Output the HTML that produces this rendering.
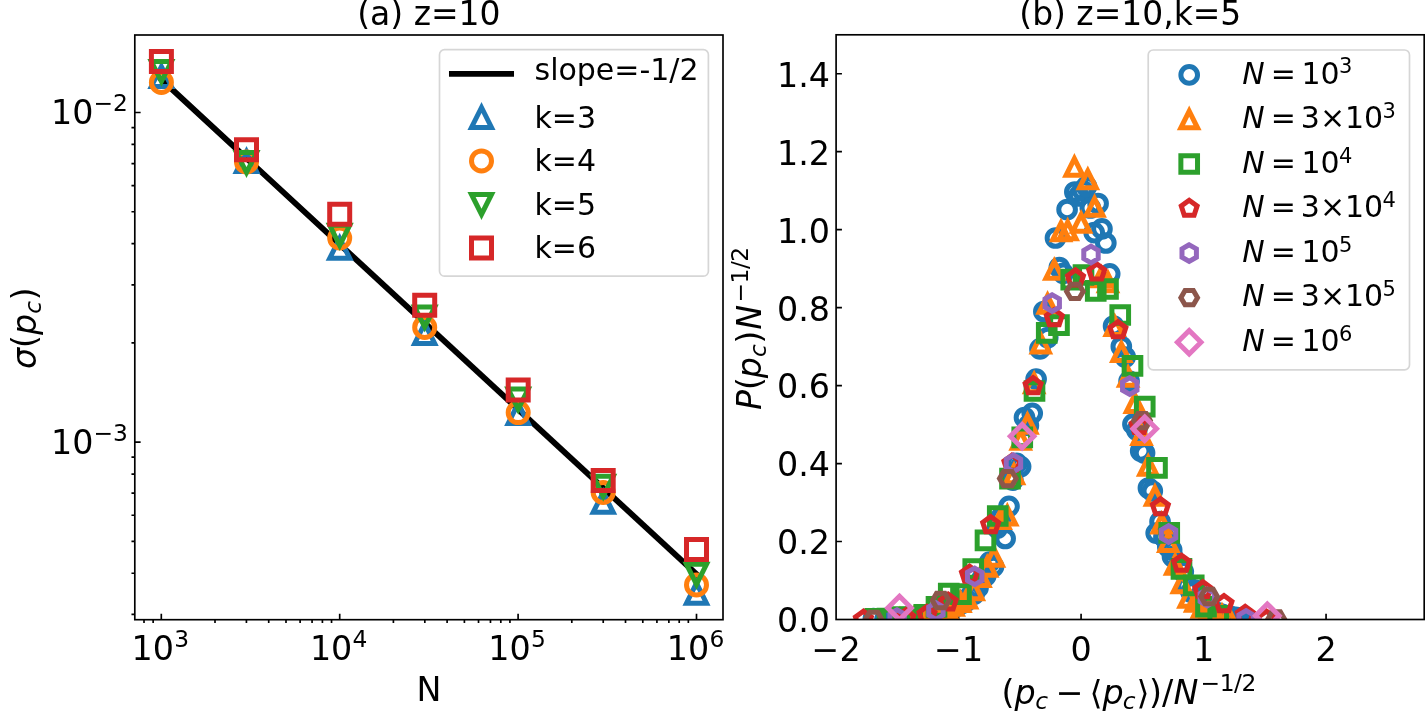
<!DOCTYPE html>
<html><head><meta charset="utf-8"><title>figure</title><style>html,body{margin:0;padding:0;background:#fff}svg{display:block}</style></head><body>
<svg width="1425" height="719" viewBox="0 0 1425 719" font-family="DejaVu Sans, Liberation Sans, sans-serif">
<rect width="1425" height="719" fill="#fff"/>
<defs><clipPath id="ca"><rect x="134.8" y="35" width="588.2" height="584.7"/></clipPath><clipPath id="cb"><rect x="836.1" y="34.8" width="588.1" height="584.7"/></clipPath></defs>
<g clip-path="url(#ca)">
<line x1="161.4" y1="79.5" x2="696.5" y2="574.2" stroke="#000" stroke-width="5.83" stroke-linecap="square"/>
<polygon points="161.4,66.5 151.4,86.5 171.4,86.5" fill="none" stroke="#1f77b4" stroke-width="5" stroke-linejoin="miter" stroke-miterlimit="10"/>
<polygon points="246.5,151.5 236.5,171.5 256.5,171.5" fill="none" stroke="#1f77b4" stroke-width="5" stroke-linejoin="miter" stroke-miterlimit="10"/>
<polygon points="339.7,238.3 329.7,258.3 349.7,258.3" fill="none" stroke="#1f77b4" stroke-width="5" stroke-linejoin="miter" stroke-miterlimit="10"/>
<polygon points="424.7,323.4 414.7,343.4 434.7,343.4" fill="none" stroke="#1f77b4" stroke-width="5" stroke-linejoin="miter" stroke-miterlimit="10"/>
<polygon points="518.2,403.4 508.2,423.4 528.2,423.4" fill="none" stroke="#1f77b4" stroke-width="5" stroke-linejoin="miter" stroke-miterlimit="10"/>
<polygon points="603.2,492.3 593.2,512.3 613.2,512.3" fill="none" stroke="#1f77b4" stroke-width="5" stroke-linejoin="miter" stroke-miterlimit="10"/>
<polygon points="696.5,583.2 686.5,603.2 706.5,603.2" fill="none" stroke="#1f77b4" stroke-width="5" stroke-linejoin="miter" stroke-miterlimit="10"/>
<circle cx="161.4" cy="82.4" r="10" fill="none" stroke="#ff7f0e" stroke-width="5"/>
<circle cx="246.5" cy="162" r="10" fill="none" stroke="#ff7f0e" stroke-width="5"/>
<circle cx="339.7" cy="238" r="10" fill="none" stroke="#ff7f0e" stroke-width="5"/>
<circle cx="424.7" cy="327.4" r="10" fill="none" stroke="#ff7f0e" stroke-width="5"/>
<circle cx="518.2" cy="412.6" r="10" fill="none" stroke="#ff7f0e" stroke-width="5"/>
<circle cx="603.2" cy="492.4" r="10" fill="none" stroke="#ff7f0e" stroke-width="5"/>
<circle cx="696.5" cy="584.9" r="10" fill="none" stroke="#ff7f0e" stroke-width="5"/>
<polygon points="161.4,81.5 151.4,61.5 171.4,61.5" fill="none" stroke="#2ca02c" stroke-width="5" stroke-linejoin="miter" stroke-miterlimit="10"/>
<polygon points="246.5,172.5 236.5,152.5 256.5,152.5" fill="none" stroke="#2ca02c" stroke-width="5" stroke-linejoin="miter" stroke-miterlimit="10"/>
<polygon points="339.7,245.3 329.7,225.3 349.7,225.3" fill="none" stroke="#2ca02c" stroke-width="5" stroke-linejoin="miter" stroke-miterlimit="10"/>
<polygon points="424.7,327 414.7,307 434.7,307" fill="none" stroke="#2ca02c" stroke-width="5" stroke-linejoin="miter" stroke-miterlimit="10"/>
<polygon points="518.2,409.1 508.2,389.1 528.2,389.1" fill="none" stroke="#2ca02c" stroke-width="5" stroke-linejoin="miter" stroke-miterlimit="10"/>
<polygon points="603.2,496.15 593.2,476.15 613.2,476.15" fill="none" stroke="#2ca02c" stroke-width="5" stroke-linejoin="miter" stroke-miterlimit="10"/>
<polygon points="696.5,584.3 686.5,564.3 706.5,564.3" fill="none" stroke="#2ca02c" stroke-width="5" stroke-linejoin="miter" stroke-miterlimit="10"/>
<polygon points="151.4,51.4 171.4,51.4 171.4,71.4 151.4,71.4" fill="none" stroke="#d62728" stroke-width="5" stroke-linejoin="miter" stroke-miterlimit="10"/>
<polygon points="236.5,139.65 256.5,139.65 256.5,159.65 236.5,159.65" fill="none" stroke="#d62728" stroke-width="5" stroke-linejoin="miter" stroke-miterlimit="10"/>
<polygon points="329.7,204.3 349.7,204.3 349.7,224.3 329.7,224.3" fill="none" stroke="#d62728" stroke-width="5" stroke-linejoin="miter" stroke-miterlimit="10"/>
<polygon points="414.7,295.15 434.7,295.15 434.7,315.15 414.7,315.15" fill="none" stroke="#d62728" stroke-width="5" stroke-linejoin="miter" stroke-miterlimit="10"/>
<polygon points="508.2,380.1 528.2,380.1 528.2,400.1 508.2,400.1" fill="none" stroke="#d62728" stroke-width="5" stroke-linejoin="miter" stroke-miterlimit="10"/>
<polygon points="593.2,470.4 613.2,470.4 613.2,490.4 593.2,490.4" fill="none" stroke="#d62728" stroke-width="5" stroke-linejoin="miter" stroke-miterlimit="10"/>
<polygon points="686.5,539.5 706.5,539.5 706.5,559.5 686.5,559.5" fill="none" stroke="#d62728" stroke-width="5" stroke-linejoin="miter" stroke-miterlimit="10"/>
</g>
<path d="M161.3 619.7V613.87M339.7 619.7V613.87M518.1 619.7V613.87M696.5 619.7V613.87M144.01 619.7V623.03M153.14 619.7V623.03M215 619.7V623.03M246.42 619.7V623.03M268.71 619.7V623.03M286 619.7V623.03M300.12 619.7V623.03M312.07 619.7V623.03M322.41 619.7V623.03M331.54 619.7V623.03M393.4 619.7V623.03M424.82 619.7V623.03M447.11 619.7V623.03M464.4 619.7V623.03M478.52 619.7V623.03M490.47 619.7V623.03M500.81 619.7V623.03M509.94 619.7V623.03M571.8 619.7V623.03M603.22 619.7V623.03M625.51 619.7V623.03M642.8 619.7V623.03M656.92 619.7V623.03M668.87 619.7V623.03M679.21 619.7V623.03M688.34 619.7V623.03M134.8 112.5H140.63M134.8 442.1H140.63M134.8 614.44H131.47M134.8 573.26H131.47M134.8 541.32H131.47M134.8 515.22H131.47M134.8 493.16H131.47M134.8 474.04H131.47M134.8 457.18H131.47M134.8 342.88H131.47M134.8 284.84H131.47M134.8 243.66H131.47M134.8 211.72H131.47M134.8 185.62H131.47M134.8 163.56H131.47M134.8 144.44H131.47M134.8 127.58H131.47" stroke="#000" stroke-width="1.67" fill="none"/>
<rect x="134.8" y="35" width="588.2" height="584.7" fill="none" stroke="#000" stroke-width="1.67"/>
<text x="131.5" y="660" font-size="33.33" text-anchor="start" >10</text>
<text x="174.2" y="647.4" font-size="23.33" text-anchor="start" >3</text>
<text x="309.9" y="660" font-size="33.33" text-anchor="start" >10</text>
<text x="352.6" y="647.4" font-size="23.33" text-anchor="start" >4</text>
<text x="488.3" y="660" font-size="33.33" text-anchor="start" >10</text>
<text x="531" y="647.4" font-size="23.33" text-anchor="start" >5</text>
<text x="666.7" y="660" font-size="33.33" text-anchor="start" >10</text>
<text x="709.4" y="647.4" font-size="23.33" text-anchor="start" >6</text>
<text x="51" y="123.8" font-size="33.33" text-anchor="start" >10</text>
<text x="93.45" y="111.3" font-size="23.33" text-anchor="start" >−2</text>
<text x="51" y="454.1" font-size="33.33" text-anchor="start" >10</text>
<text x="93.45" y="440.8" font-size="23.33" text-anchor="start" >−3</text>
<text x="428.9" y="25" font-size="33" text-anchor="middle" >(a) z=10</text>
<text x="428.9" y="700.7" font-size="33.33" text-anchor="middle" >N</text>
<g transform="translate(35.9,369.0) rotate(-90)"><text x="0" y="0" font-size="33.33" text-anchor="start" font-style="italic" >σ</text><text x="21.1" y="0" font-size="33.33" text-anchor="start" >(</text><text x="34.1" y="0" font-size="33.33" text-anchor="start" font-style="italic" >p</text><text x="55.3" y="5.4" font-size="23.33" text-anchor="start" font-style="italic" >c</text><text x="68.6" y="0" font-size="33.33" text-anchor="start" >)</text></g>
<rect x="439.5" y="49.7" width="268.9" height="226.5" rx="5" ry="5" fill="#fff" fill-opacity="0.8" stroke="#ccc" stroke-opacity="0.8" stroke-width="1.67"/>
<line x1="451.9" y1="73.85" x2="511.1" y2="73.85" stroke="#000" stroke-width="5.83" stroke-linecap="square"/>
<polygon points="481.5,107.5 471.5,127.5 491.5,127.5" fill="none" stroke="#1f77b4" stroke-width="5" stroke-linejoin="miter" stroke-miterlimit="10"/>
<circle cx="481.5" cy="160.9" r="10" fill="none" stroke="#ff7f0e" stroke-width="5"/>
<polygon points="481.5,214.4 471.5,194.4 491.5,194.4" fill="none" stroke="#2ca02c" stroke-width="5" stroke-linejoin="miter" stroke-miterlimit="10"/>
<polygon points="471.5,237.9 491.5,237.9 491.5,257.9 471.5,257.9" fill="none" stroke="#d62728" stroke-width="5" stroke-linejoin="miter" stroke-miterlimit="10"/>
<text x="534.5" y="79.8" font-size="30" text-anchor="start" >slope=-1/2</text>
<text x="534.5" y="127.9" font-size="30" text-anchor="start" >k=3</text>
<text x="534.5" y="171.4" font-size="30" text-anchor="start" >k=4</text>
<text x="534.5" y="214.9" font-size="30" text-anchor="start" >k=5</text>
<text x="534.5" y="258.4" font-size="30" text-anchor="start" >k=6</text>
<path d="M958.59 619.5V613.67M1081.08 619.5V613.67M1203.57 619.5V613.67M1326.06 619.5V613.67M836.1 541.53H841.93M836.1 463.56H841.93M836.1 385.59H841.93M836.1 307.62H841.93M836.1 229.65H841.93M836.1 151.68H841.93M836.1 73.71H841.93" stroke="#000" stroke-width="1.67" fill="none"/>
<g clip-path="url(#cb)">
<circle cx="873.44" cy="618.5" r="8.33" fill="none" stroke="#1f77b4" stroke-width="5"/>
<circle cx="885.06" cy="619.3" r="8.33" fill="none" stroke="#1f77b4" stroke-width="5"/>
<circle cx="888.94" cy="619.3" r="8.33" fill="none" stroke="#1f77b4" stroke-width="5"/>
<circle cx="892.81" cy="619.5" r="8.33" fill="none" stroke="#1f77b4" stroke-width="5"/>
<circle cx="896.68" cy="619.5" r="8.33" fill="none" stroke="#1f77b4" stroke-width="5"/>
<circle cx="900.56" cy="619.48" r="8.33" fill="none" stroke="#1f77b4" stroke-width="5"/>
<circle cx="904.43" cy="619.44" r="8.33" fill="none" stroke="#1f77b4" stroke-width="5"/>
<circle cx="908.3" cy="619.35" r="8.33" fill="none" stroke="#1f77b4" stroke-width="5"/>
<circle cx="912.17" cy="619.22" r="8.33" fill="none" stroke="#1f77b4" stroke-width="5"/>
<circle cx="916.05" cy="618.99" r="8.33" fill="none" stroke="#1f77b4" stroke-width="5"/>
<circle cx="919.92" cy="618.66" r="8.33" fill="none" stroke="#1f77b4" stroke-width="5"/>
<circle cx="923.79" cy="618.19" r="8.33" fill="none" stroke="#1f77b4" stroke-width="5"/>
<circle cx="927.67" cy="617.5" r="8.33" fill="none" stroke="#1f77b4" stroke-width="5"/>
<circle cx="931.54" cy="616.63" r="8.33" fill="none" stroke="#1f77b4" stroke-width="5"/>
<circle cx="935.41" cy="615.47" r="8.33" fill="none" stroke="#1f77b4" stroke-width="5"/>
<circle cx="939.29" cy="614.04" r="8.33" fill="none" stroke="#1f77b4" stroke-width="5"/>
<circle cx="943.16" cy="612.38" r="8.33" fill="none" stroke="#1f77b4" stroke-width="5"/>
<circle cx="947.03" cy="610.53" r="8.33" fill="none" stroke="#1f77b4" stroke-width="5"/>
<circle cx="950.9" cy="608.76" r="8.33" fill="none" stroke="#1f77b4" stroke-width="5"/>
<circle cx="954.78" cy="606.97" r="8.33" fill="none" stroke="#1f77b4" stroke-width="5"/>
<circle cx="958.65" cy="605.13" r="8.33" fill="none" stroke="#1f77b4" stroke-width="5"/>
<circle cx="962.52" cy="603.21" r="8.33" fill="none" stroke="#1f77b4" stroke-width="5"/>
<circle cx="966.4" cy="601.01" r="8.33" fill="none" stroke="#1f77b4" stroke-width="5"/>
<circle cx="970.27" cy="596" r="8.33" fill="none" stroke="#1f77b4" stroke-width="5"/>
<circle cx="974.14" cy="594.04" r="8.33" fill="none" stroke="#1f77b4" stroke-width="5"/>
<circle cx="978.02" cy="587.7" r="8.33" fill="none" stroke="#1f77b4" stroke-width="5"/>
<circle cx="981.89" cy="579" r="8.33" fill="none" stroke="#1f77b4" stroke-width="5"/>
<circle cx="985.76" cy="575.8" r="8.33" fill="none" stroke="#1f77b4" stroke-width="5"/>
<circle cx="989.63" cy="562.2" r="8.33" fill="none" stroke="#1f77b4" stroke-width="5"/>
<circle cx="993.51" cy="566.5" r="8.33" fill="none" stroke="#1f77b4" stroke-width="5"/>
<circle cx="997.38" cy="528" r="8.33" fill="none" stroke="#1f77b4" stroke-width="5"/>
<circle cx="1001.25" cy="517.2" r="8.33" fill="none" stroke="#1f77b4" stroke-width="5"/>
<circle cx="1005.13" cy="538.5" r="8.33" fill="none" stroke="#1f77b4" stroke-width="5"/>
<circle cx="1009" cy="506.3" r="8.33" fill="none" stroke="#1f77b4" stroke-width="5"/>
<circle cx="1012.87" cy="480.2" r="8.33" fill="none" stroke="#1f77b4" stroke-width="5"/>
<circle cx="1016.75" cy="463.4" r="8.33" fill="none" stroke="#1f77b4" stroke-width="5"/>
<circle cx="1020.62" cy="466.6" r="8.33" fill="none" stroke="#1f77b4" stroke-width="5"/>
<circle cx="1024.49" cy="417.5" r="8.33" fill="none" stroke="#1f77b4" stroke-width="5"/>
<circle cx="1028.37" cy="425.4" r="8.33" fill="none" stroke="#1f77b4" stroke-width="5"/>
<circle cx="1032.24" cy="413.3" r="8.33" fill="none" stroke="#1f77b4" stroke-width="5"/>
<circle cx="1036.11" cy="379.1" r="8.33" fill="none" stroke="#1f77b4" stroke-width="5"/>
<circle cx="1039.98" cy="348.9" r="8.33" fill="none" stroke="#1f77b4" stroke-width="5"/>
<circle cx="1043.86" cy="311.5" r="8.33" fill="none" stroke="#1f77b4" stroke-width="5"/>
<circle cx="1047.73" cy="337.5" r="8.33" fill="none" stroke="#1f77b4" stroke-width="5"/>
<circle cx="1055.48" cy="238" r="8.33" fill="none" stroke="#1f77b4" stroke-width="5"/>
<circle cx="1059.35" cy="267.5" r="8.33" fill="none" stroke="#1f77b4" stroke-width="5"/>
<circle cx="1063.22" cy="273.3" r="8.33" fill="none" stroke="#1f77b4" stroke-width="5"/>
<circle cx="1067.1" cy="209.5" r="8.33" fill="none" stroke="#1f77b4" stroke-width="5"/>
<circle cx="1074.84" cy="192" r="8.33" fill="none" stroke="#1f77b4" stroke-width="5"/>
<circle cx="1078.71" cy="196" r="8.33" fill="none" stroke="#1f77b4" stroke-width="5"/>
<circle cx="1082.59" cy="190.5" r="8.33" fill="none" stroke="#1f77b4" stroke-width="5"/>
<circle cx="1086.46" cy="186.5" r="8.33" fill="none" stroke="#1f77b4" stroke-width="5"/>
<circle cx="1090.33" cy="208" r="8.33" fill="none" stroke="#1f77b4" stroke-width="5"/>
<circle cx="1094.21" cy="232.6" r="8.33" fill="none" stroke="#1f77b4" stroke-width="5"/>
<circle cx="1098.08" cy="203.5" r="8.33" fill="none" stroke="#1f77b4" stroke-width="5"/>
<circle cx="1101.95" cy="228.9" r="8.33" fill="none" stroke="#1f77b4" stroke-width="5"/>
<circle cx="1105.83" cy="243" r="8.33" fill="none" stroke="#1f77b4" stroke-width="5"/>
<circle cx="1109.7" cy="273.8" r="8.33" fill="none" stroke="#1f77b4" stroke-width="5"/>
<circle cx="1113.57" cy="326" r="8.33" fill="none" stroke="#1f77b4" stroke-width="5"/>
<circle cx="1121.32" cy="346.5" r="8.33" fill="none" stroke="#1f77b4" stroke-width="5"/>
<circle cx="1125.19" cy="357" r="8.33" fill="none" stroke="#1f77b4" stroke-width="5"/>
<circle cx="1129.06" cy="381.2" r="8.33" fill="none" stroke="#1f77b4" stroke-width="5"/>
<circle cx="1132.94" cy="424.2" r="8.33" fill="none" stroke="#1f77b4" stroke-width="5"/>
<circle cx="1136.81" cy="430.1" r="8.33" fill="none" stroke="#1f77b4" stroke-width="5"/>
<circle cx="1140.68" cy="451" r="8.33" fill="none" stroke="#1f77b4" stroke-width="5"/>
<circle cx="1144.56" cy="453" r="8.33" fill="none" stroke="#1f77b4" stroke-width="5"/>
<circle cx="1148.43" cy="488" r="8.33" fill="none" stroke="#1f77b4" stroke-width="5"/>
<circle cx="1152.3" cy="491" r="8.33" fill="none" stroke="#1f77b4" stroke-width="5"/>
<circle cx="1156.17" cy="533.1" r="8.33" fill="none" stroke="#1f77b4" stroke-width="5"/>
<circle cx="1160.05" cy="521.7" r="8.33" fill="none" stroke="#1f77b4" stroke-width="5"/>
<circle cx="1163.92" cy="537" r="8.33" fill="none" stroke="#1f77b4" stroke-width="5"/>
<circle cx="1167.79" cy="546.6" r="8.33" fill="none" stroke="#1f77b4" stroke-width="5"/>
<circle cx="1171.67" cy="550" r="8.33" fill="none" stroke="#1f77b4" stroke-width="5"/>
<circle cx="1179.41" cy="564.98" r="8.33" fill="none" stroke="#1f77b4" stroke-width="5"/>
<circle cx="1183.29" cy="571.8" r="8.33" fill="none" stroke="#1f77b4" stroke-width="5"/>
<circle cx="1187.16" cy="585.79" r="8.33" fill="none" stroke="#1f77b4" stroke-width="5"/>
<circle cx="1191.03" cy="592" r="8.33" fill="none" stroke="#1f77b4" stroke-width="5"/>
<circle cx="1194.9" cy="590" r="8.33" fill="none" stroke="#1f77b4" stroke-width="5"/>
<circle cx="1198.78" cy="602.13" r="8.33" fill="none" stroke="#1f77b4" stroke-width="5"/>
<circle cx="1202.65" cy="604.91" r="8.33" fill="none" stroke="#1f77b4" stroke-width="5"/>
<circle cx="1206.52" cy="607.57" r="8.33" fill="none" stroke="#1f77b4" stroke-width="5"/>
<circle cx="1210.4" cy="609.84" r="8.33" fill="none" stroke="#1f77b4" stroke-width="5"/>
<circle cx="1214.27" cy="611.53" r="8.33" fill="none" stroke="#1f77b4" stroke-width="5"/>
<circle cx="1218.14" cy="612.98" r="8.33" fill="none" stroke="#1f77b4" stroke-width="5"/>
<circle cx="1222.02" cy="614.26" r="8.33" fill="none" stroke="#1f77b4" stroke-width="5"/>
<circle cx="1225.89" cy="615.47" r="8.33" fill="none" stroke="#1f77b4" stroke-width="5"/>
<circle cx="1229.76" cy="616.42" r="8.33" fill="none" stroke="#1f77b4" stroke-width="5"/>
<circle cx="1233.63" cy="617.1" r="8.33" fill="none" stroke="#1f77b4" stroke-width="5"/>
<circle cx="1237.51" cy="617.48" r="8.33" fill="none" stroke="#1f77b4" stroke-width="5"/>
<circle cx="1241.38" cy="617.5" r="8.33" fill="none" stroke="#1f77b4" stroke-width="5"/>
<circle cx="1245.25" cy="617.5" r="8.33" fill="none" stroke="#1f77b4" stroke-width="5"/>
<circle cx="1172.5" cy="556.5" r="8.33" fill="none" stroke="#1f77b4" stroke-width="5"/>
<polygon points="899.97,611.17 891.64,627.83 908.3,627.83" fill="none" stroke="#ff7f0e" stroke-width="5" stroke-linejoin="miter" stroke-miterlimit="10"/>
<polygon points="906.68,610.97 898.35,627.63 915.01,627.63" fill="none" stroke="#ff7f0e" stroke-width="5" stroke-linejoin="miter" stroke-miterlimit="10"/>
<polygon points="913.38,610.67 905.05,627.33 921.71,627.33" fill="none" stroke="#ff7f0e" stroke-width="5" stroke-linejoin="miter" stroke-miterlimit="10"/>
<polygon points="920.09,609.97 911.76,626.63 928.42,626.63" fill="none" stroke="#ff7f0e" stroke-width="5" stroke-linejoin="miter" stroke-miterlimit="10"/>
<polygon points="926.8,608.67 918.47,625.33 935.13,625.33" fill="none" stroke="#ff7f0e" stroke-width="5" stroke-linejoin="miter" stroke-miterlimit="10"/>
<polygon points="933.51,606.67 925.18,623.33 941.84,623.33" fill="none" stroke="#ff7f0e" stroke-width="5" stroke-linejoin="miter" stroke-miterlimit="10"/>
<polygon points="940.22,603.67 931.89,620.33 948.55,620.33" fill="none" stroke="#ff7f0e" stroke-width="5" stroke-linejoin="miter" stroke-miterlimit="10"/>
<polygon points="946.93,600.17 938.6,616.83 955.26,616.83" fill="none" stroke="#ff7f0e" stroke-width="5" stroke-linejoin="miter" stroke-miterlimit="10"/>
<polygon points="953.64,597.67 945.31,614.33 961.97,614.33" fill="none" stroke="#ff7f0e" stroke-width="5" stroke-linejoin="miter" stroke-miterlimit="10"/>
<polygon points="960.35,593.77 952.02,610.43 968.68,610.43" fill="none" stroke="#ff7f0e" stroke-width="5" stroke-linejoin="miter" stroke-miterlimit="10"/>
<polygon points="967.06,590.27 958.73,606.93 975.39,606.93" fill="none" stroke="#ff7f0e" stroke-width="5" stroke-linejoin="miter" stroke-miterlimit="10"/>
<polygon points="973.77,582.07 965.44,598.73 982.1,598.73" fill="none" stroke="#ff7f0e" stroke-width="5" stroke-linejoin="miter" stroke-miterlimit="10"/>
<polygon points="980.47,568.87 972.14,585.53 988.8,585.53" fill="none" stroke="#ff7f0e" stroke-width="5" stroke-linejoin="miter" stroke-miterlimit="10"/>
<polygon points="987.18,558.67 978.85,575.33 995.51,575.33" fill="none" stroke="#ff7f0e" stroke-width="5" stroke-linejoin="miter" stroke-miterlimit="10"/>
<polygon points="993.89,548.57 985.56,565.23 1002.22,565.23" fill="none" stroke="#ff7f0e" stroke-width="5" stroke-linejoin="miter" stroke-miterlimit="10"/>
<polygon points="1000.6,510.87 992.27,527.53 1008.93,527.53" fill="none" stroke="#ff7f0e" stroke-width="5" stroke-linejoin="miter" stroke-miterlimit="10"/>
<polygon points="1007.31,507.37 998.98,524.03 1015.64,524.03" fill="none" stroke="#ff7f0e" stroke-width="5" stroke-linejoin="miter" stroke-miterlimit="10"/>
<polygon points="1014.02,465.97 1005.69,482.63 1022.35,482.63" fill="none" stroke="#ff7f0e" stroke-width="5" stroke-linejoin="miter" stroke-miterlimit="10"/>
<polygon points="1020.73,431.47 1012.4,448.13 1029.06,448.13" fill="none" stroke="#ff7f0e" stroke-width="5" stroke-linejoin="miter" stroke-miterlimit="10"/>
<polygon points="1027.44,415.57 1019.11,432.23 1035.77,432.23" fill="none" stroke="#ff7f0e" stroke-width="5" stroke-linejoin="miter" stroke-miterlimit="10"/>
<polygon points="1034.15,374.97 1025.82,391.63 1042.48,391.63" fill="none" stroke="#ff7f0e" stroke-width="5" stroke-linejoin="miter" stroke-miterlimit="10"/>
<polygon points="1040.86,335.27 1032.53,351.93 1049.18,351.93" fill="none" stroke="#ff7f0e" stroke-width="5" stroke-linejoin="miter" stroke-miterlimit="10"/>
<polygon points="1047.56,295.57 1039.23,312.23 1055.89,312.23" fill="none" stroke="#ff7f0e" stroke-width="5" stroke-linejoin="miter" stroke-miterlimit="10"/>
<polygon points="1054.27,261.57 1045.94,278.23 1062.6,278.23" fill="none" stroke="#ff7f0e" stroke-width="5" stroke-linejoin="miter" stroke-miterlimit="10"/>
<polygon points="1060.98,223.17 1052.65,239.83 1069.31,239.83" fill="none" stroke="#ff7f0e" stroke-width="5" stroke-linejoin="miter" stroke-miterlimit="10"/>
<polygon points="1067.69,222.17 1059.36,238.83 1076.02,238.83" fill="none" stroke="#ff7f0e" stroke-width="5" stroke-linejoin="miter" stroke-miterlimit="10"/>
<polygon points="1074.4,158.67 1066.07,175.33 1082.73,175.33" fill="none" stroke="#ff7f0e" stroke-width="5" stroke-linejoin="miter" stroke-miterlimit="10"/>
<polygon points="1081.11,214.67 1072.78,231.33 1089.44,231.33" fill="none" stroke="#ff7f0e" stroke-width="5" stroke-linejoin="miter" stroke-miterlimit="10"/>
<polygon points="1087.82,170.97 1079.49,187.63 1096.15,187.63" fill="none" stroke="#ff7f0e" stroke-width="5" stroke-linejoin="miter" stroke-miterlimit="10"/>
<polygon points="1094.53,198.67 1086.2,215.33 1102.86,215.33" fill="none" stroke="#ff7f0e" stroke-width="5" stroke-linejoin="miter" stroke-miterlimit="10"/>
<polygon points="1101.24,268.97 1092.91,285.63 1109.57,285.63" fill="none" stroke="#ff7f0e" stroke-width="5" stroke-linejoin="miter" stroke-miterlimit="10"/>
<polygon points="1107.95,274.17 1099.62,290.83 1116.28,290.83" fill="none" stroke="#ff7f0e" stroke-width="5" stroke-linejoin="miter" stroke-miterlimit="10"/>
<polygon points="1114.65,317.87 1106.32,334.53 1122.98,334.53" fill="none" stroke="#ff7f0e" stroke-width="5" stroke-linejoin="miter" stroke-miterlimit="10"/>
<polygon points="1121.36,343.87 1113.03,360.53 1129.69,360.53" fill="none" stroke="#ff7f0e" stroke-width="5" stroke-linejoin="miter" stroke-miterlimit="10"/>
<polygon points="1128.07,368.57 1119.74,385.23 1136.4,385.23" fill="none" stroke="#ff7f0e" stroke-width="5" stroke-linejoin="miter" stroke-miterlimit="10"/>
<polygon points="1134.78,394.87 1126.45,411.53 1143.11,411.53" fill="none" stroke="#ff7f0e" stroke-width="5" stroke-linejoin="miter" stroke-miterlimit="10"/>
<polygon points="1141.49,426.77 1133.16,443.43 1149.82,443.43" fill="none" stroke="#ff7f0e" stroke-width="5" stroke-linejoin="miter" stroke-miterlimit="10"/>
<polygon points="1148.2,457.67 1139.87,474.33 1156.53,474.33" fill="none" stroke="#ff7f0e" stroke-width="5" stroke-linejoin="miter" stroke-miterlimit="10"/>
<polygon points="1154.91,487.67 1146.58,504.33 1163.24,504.33" fill="none" stroke="#ff7f0e" stroke-width="5" stroke-linejoin="miter" stroke-miterlimit="10"/>
<polygon points="1161.62,515.37 1153.29,532.03 1169.95,532.03" fill="none" stroke="#ff7f0e" stroke-width="5" stroke-linejoin="miter" stroke-miterlimit="10"/>
<polygon points="1168.33,533.77 1160,550.43 1176.66,550.43" fill="none" stroke="#ff7f0e" stroke-width="5" stroke-linejoin="miter" stroke-miterlimit="10"/>
<polygon points="1175.04,556.57 1166.71,573.23 1183.37,573.23" fill="none" stroke="#ff7f0e" stroke-width="5" stroke-linejoin="miter" stroke-miterlimit="10"/>
<polygon points="1181.74,575.17 1173.41,591.83 1190.07,591.83" fill="none" stroke="#ff7f0e" stroke-width="5" stroke-linejoin="miter" stroke-miterlimit="10"/>
<polygon points="1188.45,589.57 1180.12,606.23 1196.78,606.23" fill="none" stroke="#ff7f0e" stroke-width="5" stroke-linejoin="miter" stroke-miterlimit="10"/>
<polygon points="1195.16,593.57 1186.83,610.23 1203.49,610.23" fill="none" stroke="#ff7f0e" stroke-width="5" stroke-linejoin="miter" stroke-miterlimit="10"/>
<polygon points="1201.87,599.57 1193.54,616.23 1210.2,616.23" fill="none" stroke="#ff7f0e" stroke-width="5" stroke-linejoin="miter" stroke-miterlimit="10"/>
<polygon points="1208.58,602.67 1200.25,619.33 1216.91,619.33" fill="none" stroke="#ff7f0e" stroke-width="5" stroke-linejoin="miter" stroke-miterlimit="10"/>
<polygon points="1215.29,605.17 1206.96,621.83 1223.62,621.83" fill="none" stroke="#ff7f0e" stroke-width="5" stroke-linejoin="miter" stroke-miterlimit="10"/>
<polygon points="1222,607.17 1213.67,623.83 1230.33,623.83" fill="none" stroke="#ff7f0e" stroke-width="5" stroke-linejoin="miter" stroke-miterlimit="10"/>
<polygon points="1228.71,609.17 1220.38,625.83 1237.04,625.83" fill="none" stroke="#ff7f0e" stroke-width="5" stroke-linejoin="miter" stroke-miterlimit="10"/>
<polygon points="866.93,610.57 883.59,610.57 883.59,627.23 866.93,627.23" fill="none" stroke="#2ca02c" stroke-width="5" stroke-linejoin="miter" stroke-miterlimit="10"/>
<polygon points="879.18,610.17 895.84,610.17 895.84,626.83 879.18,626.83" fill="none" stroke="#2ca02c" stroke-width="5" stroke-linejoin="miter" stroke-miterlimit="10"/>
<polygon points="891.43,608.67 908.09,608.67 908.09,625.33 891.43,625.33" fill="none" stroke="#2ca02c" stroke-width="5" stroke-linejoin="miter" stroke-miterlimit="10"/>
<polygon points="903.68,609.17 920.34,609.17 920.34,625.83 903.68,625.83" fill="none" stroke="#2ca02c" stroke-width="5" stroke-linejoin="miter" stroke-miterlimit="10"/>
<polygon points="915.92,606.47 932.59,606.47 932.59,623.13 915.92,623.13" fill="none" stroke="#2ca02c" stroke-width="5" stroke-linejoin="miter" stroke-miterlimit="10"/>
<polygon points="928.17,598.47 944.83,598.47 944.83,615.13 928.17,615.13" fill="none" stroke="#2ca02c" stroke-width="5" stroke-linejoin="miter" stroke-miterlimit="10"/>
<polygon points="940.42,585.27 957.08,585.27 957.08,601.93 940.42,601.93" fill="none" stroke="#2ca02c" stroke-width="5" stroke-linejoin="miter" stroke-miterlimit="10"/>
<polygon points="952.67,585.77 969.33,585.77 969.33,602.43 952.67,602.43" fill="none" stroke="#2ca02c" stroke-width="5" stroke-linejoin="miter" stroke-miterlimit="10"/>
<polygon points="964.92,560.67 981.58,560.67 981.58,577.33 964.92,577.33" fill="none" stroke="#2ca02c" stroke-width="5" stroke-linejoin="miter" stroke-miterlimit="10"/>
<polygon points="977.17,531.97 993.83,531.97 993.83,548.63 977.17,548.63" fill="none" stroke="#2ca02c" stroke-width="5" stroke-linejoin="miter" stroke-miterlimit="10"/>
<polygon points="989.42,507.67 1006.08,507.67 1006.08,524.33 989.42,524.33" fill="none" stroke="#2ca02c" stroke-width="5" stroke-linejoin="miter" stroke-miterlimit="10"/>
<polygon points="1001.67,470.37 1018.33,470.37 1018.33,487.03 1001.67,487.03" fill="none" stroke="#2ca02c" stroke-width="5" stroke-linejoin="miter" stroke-miterlimit="10"/>
<polygon points="1013.92,428.97 1030.58,428.97 1030.58,445.63 1013.92,445.63" fill="none" stroke="#2ca02c" stroke-width="5" stroke-linejoin="miter" stroke-miterlimit="10"/>
<polygon points="1026.17,382.67 1042.83,382.67 1042.83,399.33 1026.17,399.33" fill="none" stroke="#2ca02c" stroke-width="5" stroke-linejoin="miter" stroke-miterlimit="10"/>
<polygon points="1038.41,324.57 1055.07,324.57 1055.07,341.23 1038.41,341.23" fill="none" stroke="#2ca02c" stroke-width="5" stroke-linejoin="miter" stroke-miterlimit="10"/>
<polygon points="1050.66,316.77 1067.32,316.77 1067.32,333.43 1050.66,333.43" fill="none" stroke="#2ca02c" stroke-width="5" stroke-linejoin="miter" stroke-miterlimit="10"/>
<polygon points="1062.91,271.27 1079.57,271.27 1079.57,287.93 1062.91,287.93" fill="none" stroke="#2ca02c" stroke-width="5" stroke-linejoin="miter" stroke-miterlimit="10"/>
<polygon points="1075.16,266.67 1091.82,266.67 1091.82,283.33 1075.16,283.33" fill="none" stroke="#2ca02c" stroke-width="5" stroke-linejoin="miter" stroke-miterlimit="10"/>
<polygon points="1087.41,282.57 1104.07,282.57 1104.07,299.23 1087.41,299.23" fill="none" stroke="#2ca02c" stroke-width="5" stroke-linejoin="miter" stroke-miterlimit="10"/>
<polygon points="1099.66,280.67 1116.32,280.67 1116.32,297.33 1099.66,297.33" fill="none" stroke="#2ca02c" stroke-width="5" stroke-linejoin="miter" stroke-miterlimit="10"/>
<polygon points="1111.91,306.67 1128.57,306.67 1128.57,323.33 1111.91,323.33" fill="none" stroke="#2ca02c" stroke-width="5" stroke-linejoin="miter" stroke-miterlimit="10"/>
<polygon points="1124.16,357.47 1140.82,357.47 1140.82,374.13 1124.16,374.13" fill="none" stroke="#2ca02c" stroke-width="5" stroke-linejoin="miter" stroke-miterlimit="10"/>
<polygon points="1136.41,398.27 1153.07,398.27 1153.07,414.93 1136.41,414.93" fill="none" stroke="#2ca02c" stroke-width="5" stroke-linejoin="miter" stroke-miterlimit="10"/>
<polygon points="1148.66,459.57 1165.32,459.57 1165.32,476.23 1148.66,476.23" fill="none" stroke="#2ca02c" stroke-width="5" stroke-linejoin="miter" stroke-miterlimit="10"/>
<polygon points="1160.91,524.57 1177.57,524.57 1177.57,541.23 1160.91,541.23" fill="none" stroke="#2ca02c" stroke-width="5" stroke-linejoin="miter" stroke-miterlimit="10"/>
<polygon points="1173.15,560.47 1189.81,560.47 1189.81,577.13 1173.15,577.13" fill="none" stroke="#2ca02c" stroke-width="5" stroke-linejoin="miter" stroke-miterlimit="10"/>
<polygon points="1185.4,577.07 1202.06,577.07 1202.06,593.73 1185.4,593.73" fill="none" stroke="#2ca02c" stroke-width="5" stroke-linejoin="miter" stroke-miterlimit="10"/>
<polygon points="1197.65,598.27 1214.31,598.27 1214.31,614.93 1197.65,614.93" fill="none" stroke="#2ca02c" stroke-width="5" stroke-linejoin="miter" stroke-miterlimit="10"/>
<polygon points="1209.9,607.47 1226.56,607.47 1226.56,624.13 1209.9,624.13" fill="none" stroke="#2ca02c" stroke-width="5" stroke-linejoin="miter" stroke-miterlimit="10"/>
<polygon points="863.37,611.17 855.44,616.93 858.47,626.24 868.26,626.24 871.29,616.93" fill="none" stroke="#d62728" stroke-width="5" stroke-linejoin="miter" stroke-miterlimit="10"/>
<polygon points="905.79,609.67 897.87,615.43 900.9,624.74 910.69,624.74 913.72,615.43" fill="none" stroke="#d62728" stroke-width="5" stroke-linejoin="miter" stroke-miterlimit="10"/>
<polygon points="927.01,606.37 919.09,612.13 922.11,621.44 931.91,621.44 934.93,612.13" fill="none" stroke="#d62728" stroke-width="5" stroke-linejoin="miter" stroke-miterlimit="10"/>
<polygon points="948.22,593.97 940.3,599.73 943.33,609.04 953.12,609.04 956.15,599.73" fill="none" stroke="#d62728" stroke-width="5" stroke-linejoin="miter" stroke-miterlimit="10"/>
<polygon points="969.44,566.17 961.52,571.93 964.54,581.24 974.34,581.24 977.36,571.93" fill="none" stroke="#d62728" stroke-width="5" stroke-linejoin="miter" stroke-miterlimit="10"/>
<polygon points="990.65,516.57 982.73,522.33 985.76,531.64 995.55,531.64 998.58,522.33" fill="none" stroke="#d62728" stroke-width="5" stroke-linejoin="miter" stroke-miterlimit="10"/>
<polygon points="1011.87,455.17 1003.95,460.93 1006.97,470.24 1016.77,470.24 1019.79,460.93" fill="none" stroke="#d62728" stroke-width="5" stroke-linejoin="miter" stroke-miterlimit="10"/>
<polygon points="1033.09,377.57 1025.16,383.33 1028.19,392.64 1037.98,392.64 1041.01,383.33" fill="none" stroke="#d62728" stroke-width="5" stroke-linejoin="miter" stroke-miterlimit="10"/>
<polygon points="1054.3,309.57 1046.38,315.33 1049.4,324.64 1059.2,324.64 1062.22,315.33" fill="none" stroke="#d62728" stroke-width="5" stroke-linejoin="miter" stroke-miterlimit="10"/>
<polygon points="1075.51,269.87 1067.59,275.63 1070.62,284.94 1080.41,284.94 1083.44,275.63" fill="none" stroke="#d62728" stroke-width="5" stroke-linejoin="miter" stroke-miterlimit="10"/>
<polygon points="1096.73,263.87 1088.81,269.63 1091.83,278.94 1101.63,278.94 1104.65,269.63" fill="none" stroke="#d62728" stroke-width="5" stroke-linejoin="miter" stroke-miterlimit="10"/>
<polygon points="1117.94,321.67 1110.02,327.43 1113.05,336.74 1122.84,336.74 1125.87,327.43" fill="none" stroke="#d62728" stroke-width="5" stroke-linejoin="miter" stroke-miterlimit="10"/>
<polygon points="1139.16,417.47 1131.24,423.23 1134.26,432.54 1144.06,432.54 1147.08,423.23" fill="none" stroke="#d62728" stroke-width="5" stroke-linejoin="miter" stroke-miterlimit="10"/>
<polygon points="1160.38,498.67 1152.45,504.43 1155.48,513.74 1165.27,513.74 1168.3,504.43" fill="none" stroke="#d62728" stroke-width="5" stroke-linejoin="miter" stroke-miterlimit="10"/>
<polygon points="1181.59,555.27 1173.67,561.03 1176.69,570.34 1186.49,570.34 1189.51,561.03" fill="none" stroke="#d62728" stroke-width="5" stroke-linejoin="miter" stroke-miterlimit="10"/>
<polygon points="1202.8,581.67 1194.88,587.43 1197.91,596.74 1207.7,596.74 1210.73,587.43" fill="none" stroke="#d62728" stroke-width="5" stroke-linejoin="miter" stroke-miterlimit="10"/>
<polygon points="1224.02,595.57 1216.1,601.33 1219.12,610.64 1228.92,610.64 1231.94,601.33" fill="none" stroke="#d62728" stroke-width="5" stroke-linejoin="miter" stroke-miterlimit="10"/>
<polygon points="1245.23,606.37 1237.31,612.13 1240.34,621.44 1250.13,621.44 1253.16,612.13" fill="none" stroke="#d62728" stroke-width="5" stroke-linejoin="miter" stroke-miterlimit="10"/>
<polygon points="1266.45,611.17 1258.53,616.93 1261.55,626.24 1271.35,626.24 1274.37,616.93" fill="none" stroke="#d62728" stroke-width="5" stroke-linejoin="miter" stroke-miterlimit="10"/>
<polygon points="897.14,609.77 889.93,613.94 889.93,622.26 897.14,626.43 904.35,622.26 904.35,613.94" fill="none" stroke="#9467bd" stroke-width="5" stroke-linejoin="miter" stroke-miterlimit="10"/>
<polygon points="935.91,602.67 928.7,606.84 928.7,615.16 935.91,619.33 943.12,615.16 943.12,606.84" fill="none" stroke="#9467bd" stroke-width="5" stroke-linejoin="miter" stroke-miterlimit="10"/>
<polygon points="974.68,568.07 967.47,572.24 967.47,580.56 974.68,584.73 981.89,580.56 981.89,572.24" fill="none" stroke="#9467bd" stroke-width="5" stroke-linejoin="miter" stroke-miterlimit="10"/>
<polygon points="1013.45,454.97 1006.24,459.13 1006.24,467.47 1013.45,471.63 1020.66,467.47 1020.66,459.13" fill="none" stroke="#9467bd" stroke-width="5" stroke-linejoin="miter" stroke-miterlimit="10"/>
<polygon points="1052.22,294.77 1045.01,298.94 1045.01,307.27 1052.22,311.43 1059.43,307.27 1059.43,298.94" fill="none" stroke="#9467bd" stroke-width="5" stroke-linejoin="miter" stroke-miterlimit="10"/>
<polygon points="1090.99,246.17 1083.78,250.34 1083.78,258.67 1090.99,262.83 1098.2,258.67 1098.2,250.34" fill="none" stroke="#9467bd" stroke-width="5" stroke-linejoin="miter" stroke-miterlimit="10"/>
<polygon points="1129.76,377.77 1122.55,381.94 1122.55,390.27 1129.76,394.43 1136.97,390.27 1136.97,381.94" fill="none" stroke="#9467bd" stroke-width="5" stroke-linejoin="miter" stroke-miterlimit="10"/>
<polygon points="1168.53,525.67 1161.32,529.84 1161.32,538.16 1168.53,542.33 1175.74,538.16 1175.74,529.84" fill="none" stroke="#9467bd" stroke-width="5" stroke-linejoin="miter" stroke-miterlimit="10"/>
<polygon points="1207.3,589.17 1200.09,593.34 1200.09,601.66 1207.3,605.83 1214.51,601.66 1214.51,593.34" fill="none" stroke="#9467bd" stroke-width="5" stroke-linejoin="miter" stroke-miterlimit="10"/>
<polygon points="1246.07,610.67 1238.86,614.84 1238.86,623.16 1246.07,627.33 1253.28,623.16 1253.28,614.84" fill="none" stroke="#9467bd" stroke-width="5" stroke-linejoin="miter" stroke-miterlimit="10"/>
<polygon points="869.44,612.29 865.27,619.5 869.44,626.71 877.77,626.71 881.93,619.5 877.77,612.29" fill="none" stroke="#8c564b" stroke-width="5" stroke-linejoin="miter" stroke-miterlimit="10"/>
<polygon points="936.54,593.29 932.37,600.5 936.54,607.71 944.87,607.71 949.03,600.5 944.87,593.29" fill="none" stroke="#8c564b" stroke-width="5" stroke-linejoin="miter" stroke-miterlimit="10"/>
<polygon points="1003.64,471.39 999.47,478.6 1003.64,485.81 1011.97,485.81 1016.13,478.6 1011.97,471.39" fill="none" stroke="#8c564b" stroke-width="5" stroke-linejoin="miter" stroke-miterlimit="10"/>
<polygon points="1070.74,284.19 1066.57,291.4 1070.74,298.61 1079.07,298.61 1083.23,291.4 1079.07,284.19" fill="none" stroke="#8c564b" stroke-width="5" stroke-linejoin="miter" stroke-miterlimit="10"/>
<polygon points="1137.84,413.39 1133.67,420.6 1137.84,427.81 1146.16,427.81 1150.33,420.6 1146.16,413.39" fill="none" stroke="#8c564b" stroke-width="5" stroke-linejoin="miter" stroke-miterlimit="10"/>
<polygon points="1204.94,589.29 1200.77,596.5 1204.94,603.71 1213.27,603.71 1217.43,596.5 1213.27,589.29" fill="none" stroke="#8c564b" stroke-width="5" stroke-linejoin="miter" stroke-miterlimit="10"/>
<polygon points="1272.04,611.79 1267.87,619 1272.04,626.21 1280.37,626.21 1284.53,619 1280.37,611.79" fill="none" stroke="#8c564b" stroke-width="5" stroke-linejoin="miter" stroke-miterlimit="10"/>
<polygon points="899.5,596.32 911.28,608.1 899.5,619.88 887.72,608.1" fill="none" stroke="#e377c2" stroke-width="5" stroke-linejoin="miter" stroke-miterlimit="10"/>
<polygon points="1022.1,424.52 1033.88,436.3 1022.1,448.08 1010.32,436.3" fill="none" stroke="#e377c2" stroke-width="5" stroke-linejoin="miter" stroke-miterlimit="10"/>
<polygon points="1144.7,416.92 1156.48,428.7 1144.7,440.48 1132.92,428.7" fill="none" stroke="#e377c2" stroke-width="5" stroke-linejoin="miter" stroke-miterlimit="10"/>
<polygon points="1267.3,603.92 1279.08,615.7 1267.3,627.48 1255.52,615.7" fill="none" stroke="#e377c2" stroke-width="5" stroke-linejoin="miter" stroke-miterlimit="10"/>
</g>
<rect x="836.1" y="34.8" width="588.1" height="584.7" fill="none" stroke="#000" stroke-width="1.67"/>
<text x="836.1" y="660.5" font-size="33.33" text-anchor="middle" >−2</text>
<text x="958.59" y="660.5" font-size="33.33" text-anchor="middle" >−1</text>
<text x="1081.08" y="660.5" font-size="33.33" text-anchor="middle" >0</text>
<text x="1203.57" y="660.5" font-size="33.33" text-anchor="middle" >1</text>
<text x="1326.06" y="660.5" font-size="33.33" text-anchor="middle" >2</text>
<text x="830" y="632.4" font-size="33.33" text-anchor="end" >0.0</text>
<text x="830" y="554.43" font-size="33.33" text-anchor="end" >0.2</text>
<text x="830" y="476.46" font-size="33.33" text-anchor="end" >0.4</text>
<text x="830" y="398.49" font-size="33.33" text-anchor="end" >0.6</text>
<text x="830" y="320.52" font-size="33.33" text-anchor="end" >0.8</text>
<text x="830" y="242.55" font-size="33.33" text-anchor="end" >1.0</text>
<text x="830" y="164.58" font-size="33.33" text-anchor="end" >1.2</text>
<text x="830" y="86.61" font-size="33.33" text-anchor="end" >1.4</text>
<text x="1130.3" y="25" font-size="32.95" text-anchor="middle" >(b) z=10,k=5</text>
<text x="1001.4" y="704.3" font-size="33.33" text-anchor="start" >(</text><text x="1014.4" y="704.3" font-size="33.33" text-anchor="start" font-style="italic" >p</text><text x="1035.2" y="709.2" font-size="23.33" text-anchor="start" font-style="italic" >c</text><text x="1055.7" y="704.3" font-size="33.33" text-anchor="start" >−</text><text x="1089.4" y="704.3" font-size="33.33" text-anchor="start" >⟨</text><text x="1102.6" y="704.3" font-size="33.33" text-anchor="start" font-style="italic" >p</text><text x="1122.8" y="709.2" font-size="23.33" text-anchor="start" font-style="italic" >c</text><text x="1136.6" y="704.3" font-size="33.33" text-anchor="start" >⟩</text><text x="1149.1" y="704.3" font-size="33.33" text-anchor="start" >)</text><text x="1162.1" y="704.3" font-size="33.33" text-anchor="start" >/</text><text x="1173.4" y="704.3" font-size="33.33" text-anchor="start" font-style="italic" >N</text><text x="1200.6" y="690.8" font-size="23.33" text-anchor="start" letter-spacing="-0.45">−1/2</text>
<g transform="translate(761.0,409.9) rotate(-90)"><text x="0" y="0" font-size="33.33" text-anchor="start" font-style="italic" >P</text><text x="20" y="0" font-size="33.33" text-anchor="start" >(</text><text x="31.6" y="0" font-size="33.33" text-anchor="start" font-style="italic" >p</text><text x="52.8" y="4.9" font-size="23.33" text-anchor="start" font-style="italic" >c</text><text x="66.2" y="0" font-size="33.33" text-anchor="start" >)</text><text x="80.2" y="0" font-size="33.33" text-anchor="start" font-style="italic" >N</text><text x="107.3" y="-12.9" font-size="23.33" text-anchor="start" letter-spacing="-0.45">−1/2</text></g>
<rect x="1148.2" y="50.0" width="261.3" height="319.9" rx="5" ry="5" fill="#fff" fill-opacity="0.8" stroke="#ccc" stroke-opacity="0.8" stroke-width="1.67"/>
<circle cx="1189.2" cy="74.9" r="8.33" fill="none" stroke="#1f77b4" stroke-width="5"/>
<text x="1242.3" y="83.7" font-size="30" text-anchor="start" font-style="italic" >N</text>
<text x="1270.7" y="83.7" font-size="30" text-anchor="start" >=</text>
<text x="1301.5" y="83.7" font-size="30" text-anchor="start" >10</text>
<text x="1339" y="73.4" font-size="21" text-anchor="start" >3</text>
<polygon points="1189.2,111.12 1180.87,127.78 1197.53,127.78" fill="none" stroke="#ff7f0e" stroke-width="5" stroke-linejoin="miter" stroke-miterlimit="10"/>
<text x="1242.3" y="128.25" font-size="30" text-anchor="start" font-style="italic" >N</text>
<text x="1270.7" y="128.25" font-size="30" text-anchor="start" >=</text>
<text x="1300.8" y="128.25" font-size="30" text-anchor="start" >3×10</text>
<text x="1382.6" y="117.95" font-size="21" text-anchor="start" >3</text>
<polygon points="1180.87,155.67 1197.53,155.67 1197.53,172.33 1180.87,172.33" fill="none" stroke="#2ca02c" stroke-width="5" stroke-linejoin="miter" stroke-miterlimit="10"/>
<text x="1242.3" y="172.8" font-size="30" text-anchor="start" font-style="italic" >N</text>
<text x="1270.7" y="172.8" font-size="30" text-anchor="start" >=</text>
<text x="1301.5" y="172.8" font-size="30" text-anchor="start" >10</text>
<text x="1339" y="162.5" font-size="21" text-anchor="start" >4</text>
<polygon points="1189.2,200.22 1181.28,205.98 1184.3,215.29 1194.1,215.29 1197.12,205.98" fill="none" stroke="#d62728" stroke-width="5" stroke-linejoin="miter" stroke-miterlimit="10"/>
<text x="1242.3" y="217.35" font-size="30" text-anchor="start" font-style="italic" >N</text>
<text x="1270.7" y="217.35" font-size="30" text-anchor="start" >=</text>
<text x="1300.8" y="217.35" font-size="30" text-anchor="start" >3×10</text>
<text x="1382.6" y="207.05" font-size="21" text-anchor="start" >4</text>
<polygon points="1189.2,244.77 1181.99,248.94 1181.99,257.26 1189.2,261.43 1196.41,257.26 1196.41,248.94" fill="none" stroke="#9467bd" stroke-width="5" stroke-linejoin="miter" stroke-miterlimit="10"/>
<text x="1242.3" y="261.9" font-size="30" text-anchor="start" font-style="italic" >N</text>
<text x="1270.7" y="261.9" font-size="30" text-anchor="start" >=</text>
<text x="1301.5" y="261.9" font-size="30" text-anchor="start" >10</text>
<text x="1339" y="251.6" font-size="21" text-anchor="start" >5</text>
<polygon points="1185.04,290.44 1180.87,297.65 1185.04,304.86 1193.37,304.86 1197.53,297.65 1193.37,290.44" fill="none" stroke="#8c564b" stroke-width="5" stroke-linejoin="miter" stroke-miterlimit="10"/>
<text x="1242.3" y="306.45" font-size="30" text-anchor="start" font-style="italic" >N</text>
<text x="1270.7" y="306.45" font-size="30" text-anchor="start" >=</text>
<text x="1300.8" y="306.45" font-size="30" text-anchor="start" >3×10</text>
<text x="1382.6" y="296.15" font-size="21" text-anchor="start" >5</text>
<polygon points="1189.2,330.42 1200.98,342.2 1189.2,353.98 1177.42,342.2" fill="none" stroke="#e377c2" stroke-width="5" stroke-linejoin="miter" stroke-miterlimit="10"/>
<text x="1242.3" y="351" font-size="30" text-anchor="start" font-style="italic" >N</text>
<text x="1270.7" y="351" font-size="30" text-anchor="start" >=</text>
<text x="1301.5" y="351" font-size="30" text-anchor="start" >10</text>
<text x="1339" y="340.7" font-size="21" text-anchor="start" >6</text>
</svg>
</body></html>
